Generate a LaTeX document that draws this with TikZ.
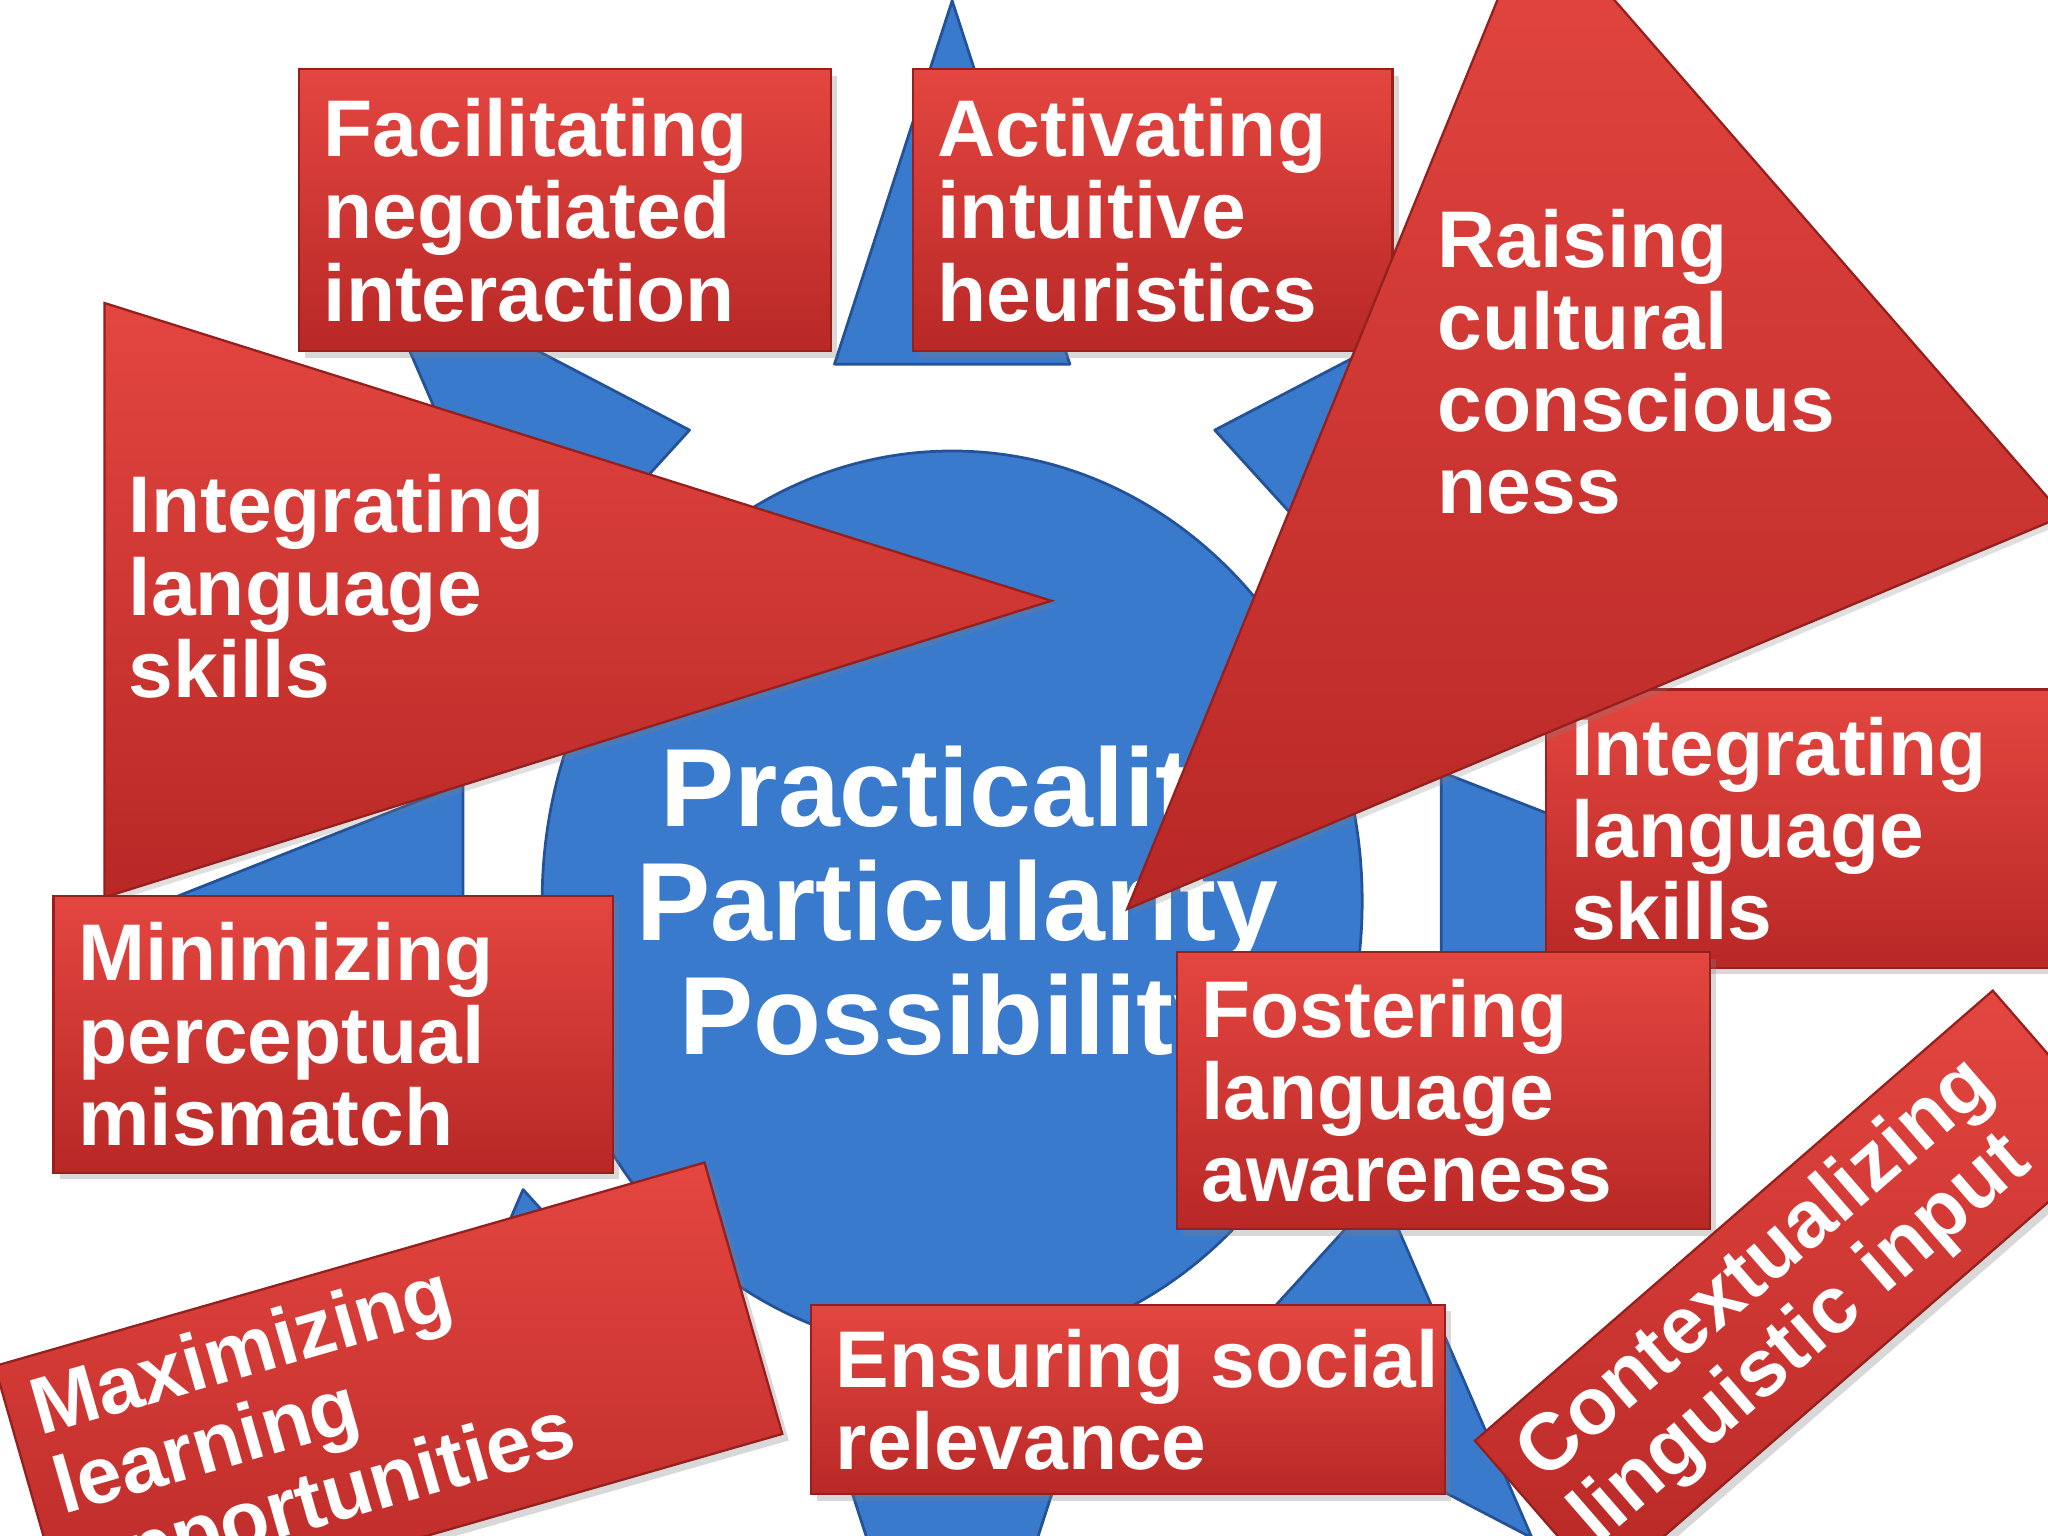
\documentclass[tikz,border=0pt]{standalone}
\usepackage{fontspec}
\setmainfont{Liberation Sans}
\usepackage{tikz}
\usetikzlibrary{shadows}

\definecolor{sunblue}{RGB}{57,122,204}
\definecolor{sunedge}{RGB}{36,82,152}
\definecolor{redtop}{RGB}{228,70,64}
\definecolor{redbot}{RGB}{184,40,38}
\definecolor{rededge}{RGB}{150,32,30}

\newcommand{\boxfont}{\fontsize{17.5}{17.9}\selectfont\bfseries}
\newcommand{\hubfont}{\fontsize{24.2}{24.8}\selectfont\bfseries}

\begin{document}
\begin{tikzpicture}[
        x=0.01cm, y=-0.01cm,
        ray/.style={fill=sunblue, draw=sunedge, line width=0.6pt, line join=round},
        wedge/.style={top color=redtop, bottom color=redbot, draw=rededge, line width=0.5pt,
            drop shadow={shadow xshift=0.04cm, shadow yshift=-0.04cm, opacity=0.25}},
        box/.style={rectangle, top color=redtop, bottom color=redbot, draw=rededge, line width=0.5pt,
            text=white, font=\boxfont, align=left, inner xsep=0.19cm, inner ysep=0pt,
            drop shadow={shadow xshift=0.05cm, shadow yshift=-0.05cm, opacity=0.3}},
        wlab/.style={text=white, font=\boxfont, align=left, inner sep=0pt}
    ]
    \useasboundingbox (0,0) rectangle (1568,1176);
    \clip (0,0) rectangle (1568,1176);
    \fill[white] (0,0) rectangle (1568,1176);

    % sun: eight rays round an ellipse
    \begin{scope}[shift={(729,690)}, x=12.55cm, y=-13.78cm]
        \foreach \ax/\ay/\bx/\by/\qx/\qy in {
                0.5/0/0.29823/0.07175/0.29823/-0.07175,
                0.35352/-0.35356/0.26161/-0.16013/0.16013/-0.26161,
                0/-0.5/0.07175/-0.29823/-0.07175/-0.29823,
                -0.35356/-0.35356/-0.16013/-0.26161/-0.26161/-0.16013,
                -0.48/0/-0.29823/-0.0655/-0.29823/0.0655,
                -0.35356/0.35352/-0.26161/0.16013/-0.16013/0.26161,
                0/0.5/-0.07175/0.29823/0.07175/0.29823,
                0.35352/0.35352/0.16013/0.26161/0.26161/0.16013}
            \draw[ray] (\ax,\ay) -- (\bx,\by) -- (\qx,\qy) -- cycle;
        \draw[ray] (0,0) ellipse [x radius=3.1375cm, y radius=3.445cm];
    \end{scope}
    \node[text=white, font=\hubfont, align=center] (hub) at (733,698)
        {Practicality\\Particularity\\Possibility};

    % top row
    \node[box, anchor=north west, text width=3.69cm, minimum height=2.16cm] (facil) at (228,52)
        {Facilitating\\negotiated\\interaction};
    \node[box, anchor=north west, text width=3.29cm, minimum height=2.16cm] (activ) at (698,52)
        {Activating\\intuitive\\heuristics};

    % left wedge
    \shade[wedge] (80,232) -- (805,460) -- (80,687) -- cycle;
    \node[wlab, anchor=west] (skillsL) at (98,449) {Integrating\\language\\skills};
    \node[box, anchor=north west, text width=3.90cm, minimum height=2.12cm] (minim) at (40,685)
        {Minimizing\\perceptual\\mismatch};

    % right side
    \node[box, anchor=north west, text width=3.82cm, minimum height=2.13cm] (skillsR) at (1183,527)
        {Integrating\\language\\skills};
    \shade[wedge] (863,696) -- (1175,-70) -- (1580,395) -- cycle;
    \node[wlab, anchor=west] (raise) at (1100,277) {Raising\\cultural\\conscious\\ness};

    % lower boxes
    \node[box, anchor=north west, text width=3.70cm, minimum height=2.12cm] (foster) at (900,728)
        {Fostering\\language\\awareness};
    \node[box, anchor=north west, text width=4.47cm, minimum height=1.45cm] (ensure) at (620,998)
        {\mbox{Ensuring social}\\relevance};
    \node[box, rotate=16, anchor=north east, text width=5.27cm, minimum height=2.16cm] (maxim) at (540,889)
        {Maximizing\\learning\\opportunities};
    \node[box, rotate=41, anchor=north west, text width=4.87cm, minimum height=1.50cm] (context) at (1128,1103)
        {\mbox{Contextualizing}\\\mbox{linguistic input}};
\end{tikzpicture}
\end{document}
